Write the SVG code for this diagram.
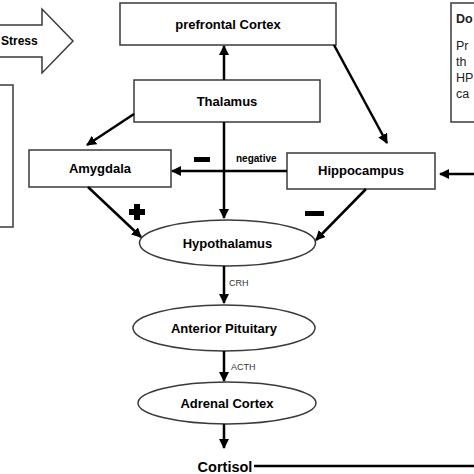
<svg xmlns="http://www.w3.org/2000/svg" width="474" height="474" viewBox="0 0 474 474">
<defs>
<marker id="ah" viewBox="0 0 10 10" refX="9" refY="5" markerWidth="4" markerHeight="4" orient="auto" markerUnits="strokeWidth">
<path d="M0,0 L10,5 L0,10 z" fill="#000"/>
</marker>
<style>
.box{fill:#fff;stroke:#3a3a3a;stroke-width:1.5}
.lbl{font-family:"Liberation Sans",Arial,sans-serif;font-weight:bold;font-size:13px;fill:#000;text-anchor:middle}
.side{font-family:"Liberation Sans",Arial,sans-serif;font-size:12.5px;fill:#222}
.small{font-family:"Liberation Sans",Arial,sans-serif;font-size:9px;fill:#333}
.c{stroke:#000;stroke-width:2.5;fill:none}
.ca{stroke:#000;stroke-width:2.5;fill:none;marker-end:url(#ah)}
</style>
</defs>
<rect width="474" height="474" fill="#fff"/>

<g id="stress">
<path d="M-5,25 L42,25 L42,9 L73,41 L42,73 L42,57 L-5,57 Z" class="box"/>
<text x="1" y="45" class="lbl" style="text-anchor:start;font-size:12px">Stress</text>
</g>

<g id="prefrontal">
<rect x="120" y="3" width="216" height="42" class="box"/>
<text x="228" y="29" class="lbl">prefrontal Cortex</text>
</g>

<g id="sidebox">
<rect x="451" y="3" width="30" height="119" class="box"/>
<text x="456" y="23" class="side" font-weight="bold">Do</text>
<text x="456" y="50" class="side">Pr</text>
<text x="456" y="66" class="side">th</text>
<text x="456" y="82" class="side">HP</text>
<text x="456" y="98" class="side">ca</text>
</g>

<g id="leftbox">
<rect x="-5" y="85" width="18" height="142" class="box"/>
</g>

<g id="thalamus">
<rect x="134" y="80" width="186" height="42" class="box"/>
<text x="227" y="106" class="lbl">Thalamus</text>
</g>

<g id="amygdala">
<rect x="29" y="150" width="142" height="37" class="box"/>
<text x="100" y="173" class="lbl">Amygdala</text>
</g>

<g id="hippocampus">
<rect x="287" y="153" width="148" height="36" class="box"/>
<text x="361" y="175" class="lbl">Hippocampus</text>
</g>

<g id="hypothalamus">
<ellipse cx="227.5" cy="243" rx="88" ry="23" class="box"/>
<text x="227.5" y="248" class="lbl">Hypothalamus</text>
</g>

<g id="pituitary">
<ellipse cx="224" cy="328" rx="91" ry="23" class="box"/>
<text x="224" y="333" class="lbl">Anterior Pituitary</text>
</g>

<g id="adrenal">
<ellipse cx="227" cy="403" rx="89" ry="21" class="box"/>
<text x="227" y="408" class="lbl">Adrenal Cortex</text>
</g>

<g id="cortisol">
<text x="225" y="472" class="lbl" style="font-size:14.5px">Cortisol</text>
</g>

<g id="connectors">
<line x1="224" y1="80" x2="224" y2="46" class="ca"/>
<line x1="334" y1="45" x2="387" y2="143" class="ca"/>
<line x1="134" y1="114" x2="87" y2="145" class="ca"/>
<line x1="224" y1="122" x2="224" y2="218" class="ca"/>
<line x1="287" y1="171" x2="172" y2="171" class="ca"/>
<line x1="474" y1="174" x2="440" y2="174" class="ca"/>
<line x1="88" y1="187" x2="141" y2="237" class="ca"/>
<line x1="366" y1="189" x2="316" y2="240" class="ca"/>
<line x1="224" y1="266" x2="224" y2="303" class="ca"/>
<line x1="224" y1="351" x2="224" y2="381" class="ca"/>
<line x1="224" y1="424" x2="224" y2="448" class="ca"/>
<line x1="254" y1="466" x2="474" y2="466" class="c"/>
<text x="236" y="162" class="lbl" style="font-size:10px;text-anchor:start">negative</text>
<text x="229" y="286" class="small">CRH</text>
<text x="231" y="370" class="small">ACTH</text>
<rect x="194" y="157" width="16" height="5" fill="#000"/>
<rect x="305" y="211" width="19" height="5" fill="#000"/>
<path d="M134,204 h6 v5 h5 v6 h-5 v5 h-6 v-5 h-5 v-6 h5 z" fill="#000"/>
</g>
</svg>
